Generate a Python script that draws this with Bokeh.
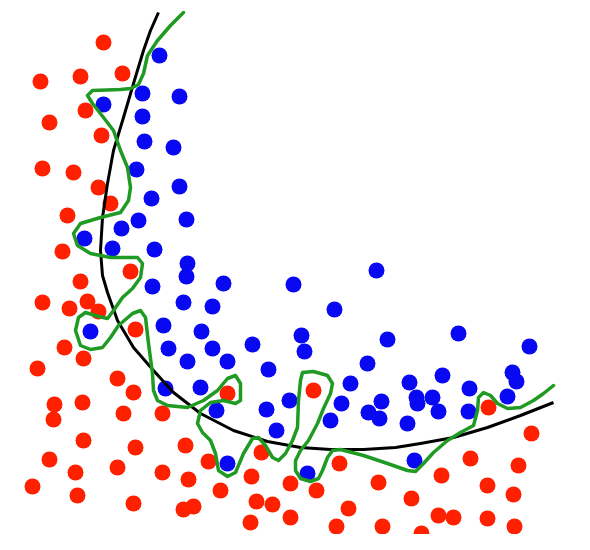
from bokeh.plotting import figure
from bokeh.models import Range1d
from bokeh.embed import file_html
from bokeh.resources import INLINE

# Class "red" samples (feature 1, feature 2)
red_x = [103, 40, 80, 122, 85, 49, 101, 42, 73, 98, 110, 67, 62, 130, 80, 42, 69, 87, 98, 135,
         64, 83, 37, 117, 133, 54, 53, 82, 123, 162, 227, 83, 135, 185, 49, 75, 117, 162, 188, 208,
         261, 32, 77, 133, 183, 193, 220, 251, 290, 256, 272, 250, 290,
         313, 488, 531, 339, 470, 518, 316, 378, 441, 411, 487, 513, 348, 336, 382, 421, 438, 453, 487, 514]
red_y = [42, 81, 76, 73, 110, 122, 135, 168, 172, 187, 203, 215, 251, 271, 281, 302, 308, 301, 311, 329,
         347, 358, 368, 378, 392, 404, 419, 402, 413, 413, 393, 440, 447, 445, 459, 472, 467, 472, 479, 461,
         452, 486, 495, 503, 509, 506, 490, 476, 483, 501, 504, 522, 517,
         390, 407, 433, 463, 458, 465, 490, 482, 475, 498, 485, 494, 508, 526, 526, 533, 515, 517, 518, 526]

# Class "blue" samples
blue_x = [159, 142, 179, 103, 142, 144, 173, 136, 179, 151, 138, 186, 121, 84, 112, 154, 187, 186, 152, 223,
          293, 183, 212, 90, 163, 201, 168, 212, 252, 187, 227, 268, 165, 200, 289, 266, 216, 276, 227,
          376, 334, 301, 387, 458, 529, 304, 367, 350, 409, 442, 512, 516, 469, 507, 341, 381, 416, 432, 417,
          368, 379, 438, 468, 330, 407, 414, 307]
blue_y = [55, 93, 96, 104, 116, 141, 147, 169, 186, 198, 220, 219, 228, 238, 248, 249, 263, 276, 286, 283,
          284, 302, 306, 331, 325, 331, 348, 348, 344, 361, 361, 369, 388, 387, 400, 409, 410, 430, 463,
          270, 309, 335, 339, 333, 346, 351, 363, 383, 382, 375, 372, 381, 388, 396, 403, 401, 397, 397, 403,
          412, 418, 411, 411, 420, 423, 460, 473]

# Smooth decision boundary (black)
smooth_x = [158, 150, 143, 133, 123, 113, 107, 102, 100, 102, 107, 117, 133, 153, 173, 200, 233, 267, 300,
            330, 363, 395, 420, 453, 487, 520, 553]
smooth_y = [12, 30, 50, 83, 117, 150, 183, 217, 250, 275, 292, 320, 347, 370, 392, 413, 430, 441, 447,
            449, 449, 447, 443, 437, 427, 415, 402]

# Overfitted decision boundary (green)
overfit_x = [183, 170, 157, 147, 143, 138, 130, 120, 92, 87, 92, 103, 113, 120, 127, 130, 128, 120, 100, 80,
             73, 77, 90, 110, 137, 142, 140, 132, 122, 113, 107, 98, 85, 78, 75, 80, 90, 102, 110, 118,
             132, 140, 145, 148, 152, 153, 157, 167, 187, 203, 217, 227, 235, 240, 240, 235, 223, 210, 200,
             197, 202, 210, 215, 218, 227, 235, 243, 252, 258, 265, 272, 278, 285, 292, 297, 298, 300, 302,
             313, 327, 332, 330, 323, 317, 308, 300, 295, 295, 300, 310, 318, 322, 327, 332, 340, 363, 387,
             407, 415, 423, 433, 447, 460, 473, 477, 478, 483, 490, 497, 507, 520, 533, 543, 553]
overfit_y = [12, 25, 40, 55, 73, 84, 88, 89, 90, 95, 103, 117, 130, 150, 167, 187, 200, 212, 217, 223,
             233, 245, 253, 257, 257, 263, 277, 288, 297, 310, 318, 316, 312, 317, 330, 345, 349, 347, 337, 325,
             313, 310, 317, 343, 373, 390, 400, 405, 407, 400, 390, 378, 375, 383, 400, 403, 400, 402, 410,
             423, 432, 440, 453, 470, 476, 472, 453, 438, 437, 445, 457, 460, 453, 440, 427, 400, 380, 372,
             371, 375, 383, 393, 408, 423, 440, 450, 460, 470, 478, 481, 478, 470, 457, 450, 449, 455, 463,
             470, 471, 463, 452, 440, 432, 425, 410, 397, 392, 395, 403, 408, 407, 400, 393, 385]

p = figure(width=574, height=534, output_backend="svg", toolbar_location=None,
           x_range=Range1d(0, 574), y_range=Range1d(534, 0), min_border=0)
p.axis.visible = False
p.grid.visible = False
p.outline_line_color = None
p.background_fill_color = "white"

p.scatter(red_x, red_y, size=16, fill_color="#ff2000", line_color=None)
p.scatter(blue_x, blue_y, size=16, fill_color="#0808f2", line_color=None)
p.line(smooth_x, smooth_y, line_color="black", line_width=3, line_join="round")
p.line(overfit_x, overfit_y, line_color="#1f9a22", line_width=3.5, line_join="round", line_cap="round")

open("out.html", "w").write(file_html(p, INLINE))
